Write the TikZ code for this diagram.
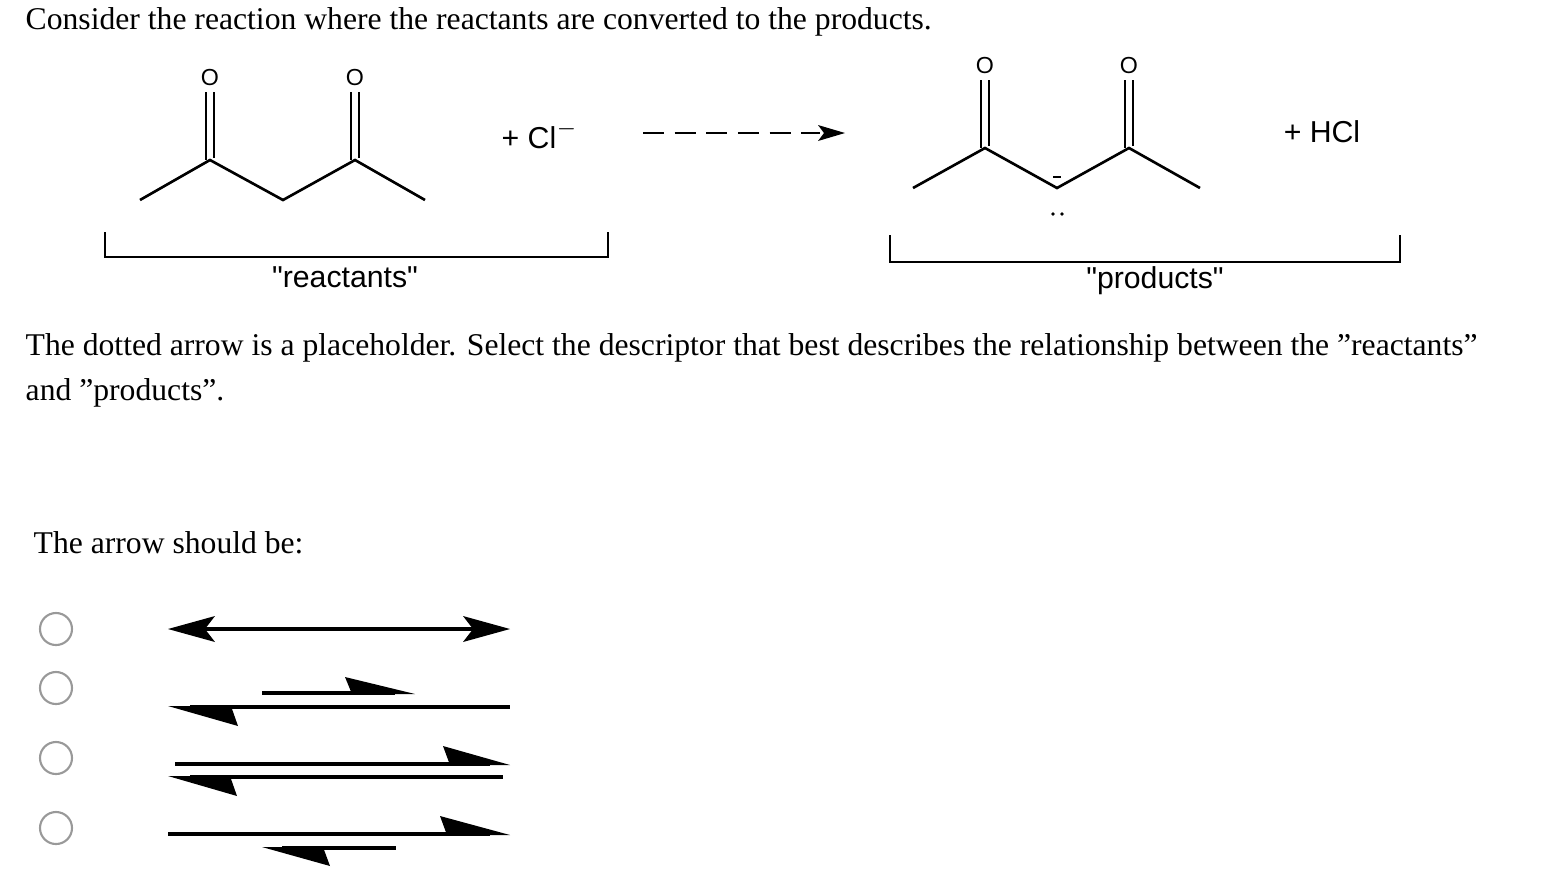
\documentclass[tikz,border=0pt]{standalone}
\usepackage{fontspec}
\setmainfont{Liberation Serif}
\newfontfamily\chemsans{Liberation Sans}
\begin{document}
\begin{tikzpicture}[x=0.01cm,y=-0.01cm,
  txt/.style={font=\fontsize{9pt}{11pt}\selectfont,anchor=west,inner sep=0},
  chem/.style={font=\chemsans\fontsize{8.6pt}{10pt}\selectfont,inner sep=0},
  atom/.style={font=\chemsans\fontsize{6.6pt}{8pt}\selectfont,inner sep=0},
  bond/.style={line width=0.75pt,line join=miter},
  thick arrow/.style={line width=1.2pt},
  radio/.style={draw=gray!80,line width=0.6pt,circle,minimum size=0.32cm,inner sep=0}]
\useasboundingbox (0,0) rectangle (1560,890);
% heading
\node[txt] (t1) at (25,22) {Consider the reaction where the reactants are converted to the products.};
% reactant
\draw[bond] (140,200)--(210,160)--(283,200)--(355,160)--(425,200);
\draw[bond] (206,92)--(206,160) (214,92)--(214,158);
\draw[bond] (351,92)--(351,160) (359,92)--(359,158);
\node[atom] (o1) at (210,77) {O};
\node[atom] (o2) at (355,77) {O};
\node[chem] (cl) at (540,135) {+ Cl$^{-}$};
% dashed arrow
\coordinate (da) at (643,133);
\coordinate (db) at (845,133);
\draw[line width=0.7pt,dash pattern=on 6pt off 3pt] (da)--(820,133);
\fill (db)--(818,125)--(824,133)--(818,141)--cycle;
% product
\draw[bond] (913,188)--(985,148)--(1057,188)--(1129,148)--(1200,188);
\draw[bond] (981,80)--(981,148) (989,80)--(989,146);
\draw[bond] (1125,80)--(1125,148) (1133,80)--(1133,146);
\node[atom] (o3) at (985,65) {O};
\node[atom] (o4) at (1129,65) {O};
\draw[line width=0.6pt] (1053,177)--(1061,177);
\fill (1053,214) circle (1.8) (1062,214) circle (1.8);
\node[chem] (hcl) at (1322,132) {+ HCl};
% brackets
\draw[line width=0.8pt] (105,232)--(105,257)--(608,257)--(608,232);
\draw[line width=0.8pt] (890,235)--(890,262)--(1400,262)--(1400,235);
\node[chem] (rl) at (345,277) {"reactants"};
\node[chem] (pl) at (1155,281) {"products"};
% question text
\node[txt] (t2) at (25,348) {The dotted arrow is a placeholder. Select the descriptor that best describes the relationship between the "reactants"};
\node[txt] (t3) at (25,393) {and "products".};
\node[txt] (t4) at (33,543) {The arrow should be:};
% radios
\node[radio] (r1) at (56,629) {};
\node[radio] (r2) at (56,688) {};
\node[radio] (r3) at (56,758) {};
\node[radio] (r4) at (56,828) {};
% option 1
\draw[thick arrow] (200,629)--(480,629);
\fill (168,629)--(215,616)--(205,629)--(215,642)--cycle;
\fill (510,629)--(463,616)--(473,629)--(463,642)--cycle;
% option 2
\draw[thick arrow] (262,693)--(395,693);
\fill (415,694)--(345,677)--(352,694)--cycle;
\draw[thick arrow] (190,707)--(510,707);
\fill (168,706)--(238,726)--(231,706)--cycle;
% option 3
\draw[thick arrow] (175,764)--(490,764);
\fill (510,765)--(443,746)--(450,765)--cycle;
\draw[thick arrow] (190,777)--(503,777);
\fill (168,776)--(237,796)--(230,776)--cycle;
% option 4
\draw[thick arrow] (168,834)--(490,834);
\fill (510,835)--(440,816)--(447,835)--cycle;
\draw[thick arrow] (282,848)--(396,848);
\fill (262,847)--(330,866)--(323,847)--cycle;
\end{tikzpicture}
\end{document}
